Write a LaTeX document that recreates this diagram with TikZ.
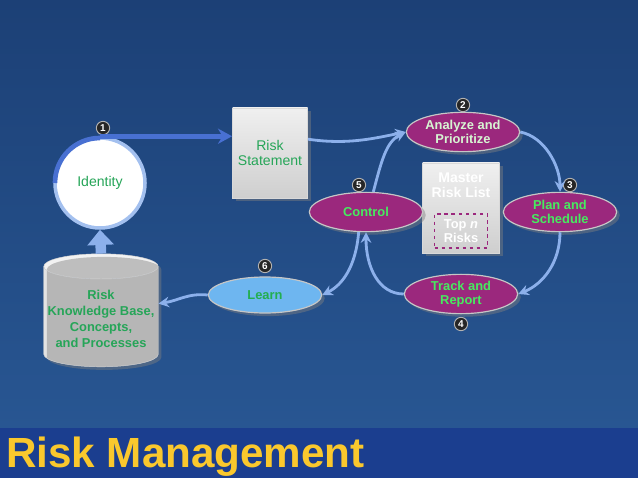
\documentclass[tikz,border=0pt]{standalone}
\usepackage{fontspec}
\setmainfont{Liberation Sans}
\usetikzlibrary{arrows.meta,shapes.geometric,shadows}

\definecolor{bgtop}{RGB}{28,64,118}
\definecolor{bgbottom}{RGB}{40,86,146}
\definecolor{band}{RGB}{27,62,143}
\definecolor{titleyellow}{RGB}{250,200,45}
\definecolor{riskpurple}{RGB}{155,40,125}
\definecolor{boxgreen}{RGB}{38,165,88}
\definecolor{ovalgreen}{RGB}{70,235,95}
\definecolor{palegreen}{RGB}{215,245,210}
\definecolor{learnblue}{RGB}{110,182,240}
\definecolor{flowblue}{RGB}{140,176,235}
\definecolor{identblue}{RGB}{72,112,210}

\begin{document}
\begin{tikzpicture}[x=0.03cm,y=-0.03cm,
    step oval/.style={ellipse,fill=riskpurple,draw=gray!45,line width=1pt,
        minimum width=3.4cm,minimum height=1.18cm,inner sep=0pt,align=center,
        text=ovalgreen,font=\bfseries\fontsize{11}{11.5}\selectfont,
        drop shadow={opacity=0.45}},
    gray box/.style={rectangle,top color=gray!12,bottom color=gray!38,
        draw=gray!30,line width=0.8pt,drop shadow={opacity=0.45}},
    badge/.style={circle,fill=black!85,draw=gray!60,line width=0.8pt,text=white,
        font=\bfseries\fontsize{8.5}{8.5}\selectfont,inner sep=0pt,minimum size=0.4cm},
    flow/.style={draw=flowblue,line width=2.4pt,-{Stealth[length=9pt,width=9pt]}}]

    % Background
    \useasboundingbox (0,0) rectangle (638,478);
    \shade[top color=bgtop,bottom color=bgbottom] (0,0) rectangle (638,428);
    \fill[band] (0,428) rectangle (638,478);

    % Title
    \node[anchor=base west,text=titleyellow,font=\bfseries\fontsize{36}{36}\selectfont]
        (title) at (2,467) {Risk Management};

    % Identify circle
    \node[circle,fill=white,draw=flowblue!80,line width=3pt,minimum size=2.7cm,
        text=boxgreen,font=\fontsize{12}{13.5}\selectfont] (ident) at (100,183) {Identity};
    \draw[identblue,line width=4pt] (55,183) .. controls (55,158) and (75,138) .. (100,138);

    % Risk statement
    \node[gray box,minimum width=2.25cm,minimum height=2.7cm,align=center,
        text=boxgreen,font=\fontsize{12}{13.5}\selectfont] (stmt) at (270,153) {Risk\\Statement};

    % Knowledge base
    \node[cylinder,shape border rotate=90,aspect=0.22,cylinder uses custom fill,
        cylinder body fill=gray!22,cylinder end fill=gray!10,draw=gray!35,
        minimum width=3.36cm,minimum height=3.39cm,align=center,text=boxgreen,
        font=\bfseries\fontsize{11}{13.5}\selectfont,drop shadow={opacity=0.45}]
        (kb) at (101,319) {Risk\\Knowledge Base,\\Concepts,\\and Processes};

    % Master risk list
    \node[gray box,minimum width=2.31cm,minimum height=2.7cm] (mrl) at (461,208) {};
    \node[align=center,text=white,font=\bfseries\fontsize{12}{12.5}\selectfont]
        (mrltxt) at (461,185) {Master\\Risk List};
    \node[draw=riskpurple,dashed,line width=1.3pt,minimum width=1.59cm,minimum height=1.02cm,
        inner sep=1pt,align=center,text=white,font=\bfseries\fontsize{11}{12}\selectfont]
        (topn) at (461,231) {Top \textit{n}\\Risks};

    % Cycle steps
    \node[step oval,text=palegreen] (ana) at (463,132) {Analyze and\\Prioritize};
    \node[step oval] (plan) at (560,212) {Plan and\\Schedule};
    \node[step oval] (track) at (461,294) {Track and\\Report};
    \node[step oval] (ctrl) at (366,212) {Control};
    \node[step oval,fill=learnblue,text=boxgreen!90!green,minimum height=1.08cm] (learn) at (265,295) {Learn};

    % Badges
    \node[badge] (b1) at (103,128) {1};
    \node[badge] (b2) at (463,105) {2};
    \node[badge] (b3) at (570,185) {3};
    \node[badge] (b4) at (461,324) {4};
    \node[badge] (b5) at (359,185) {5};
    \node[badge] (b6) at (265,266) {6};

    % Arrows
    \draw[identblue,line width=4pt,-{Stealth[length=12pt,width=13pt]}]
        (ident.north) -- (stmt.west |- ident.north);
    \draw[flowblue,line width=9pt,-{Triangle[length=13pt,width=22pt]}]
        (kb.north) -- (ident.south);
    \draw[flow] (stmt.20) .. controls +(40,6) and +(-30,6) .. (ana.west);
    \draw[flow] (ana.east) .. controls +(25,5) and +(0,-25) .. (plan.north);
    \draw[flow] (plan.south) .. controls +(0,30) and +(25,-10) .. (track.east);
    \draw[flow] (track.west) .. controls +(-25,0) and +(0,35) .. (ctrl.south);
    \draw[flow] (ctrl.70) .. controls +(8,-30) and +(-20,10) .. (ana.west);
    \draw[flow] (ctrl.250) .. controls +(-3,35) and +(20,-10) .. (learn.east);
    \draw[flow] (learn.west) .. controls +(-20,-2) and +(20,-3) .. (kb.15);
\end{tikzpicture}
\end{document}
